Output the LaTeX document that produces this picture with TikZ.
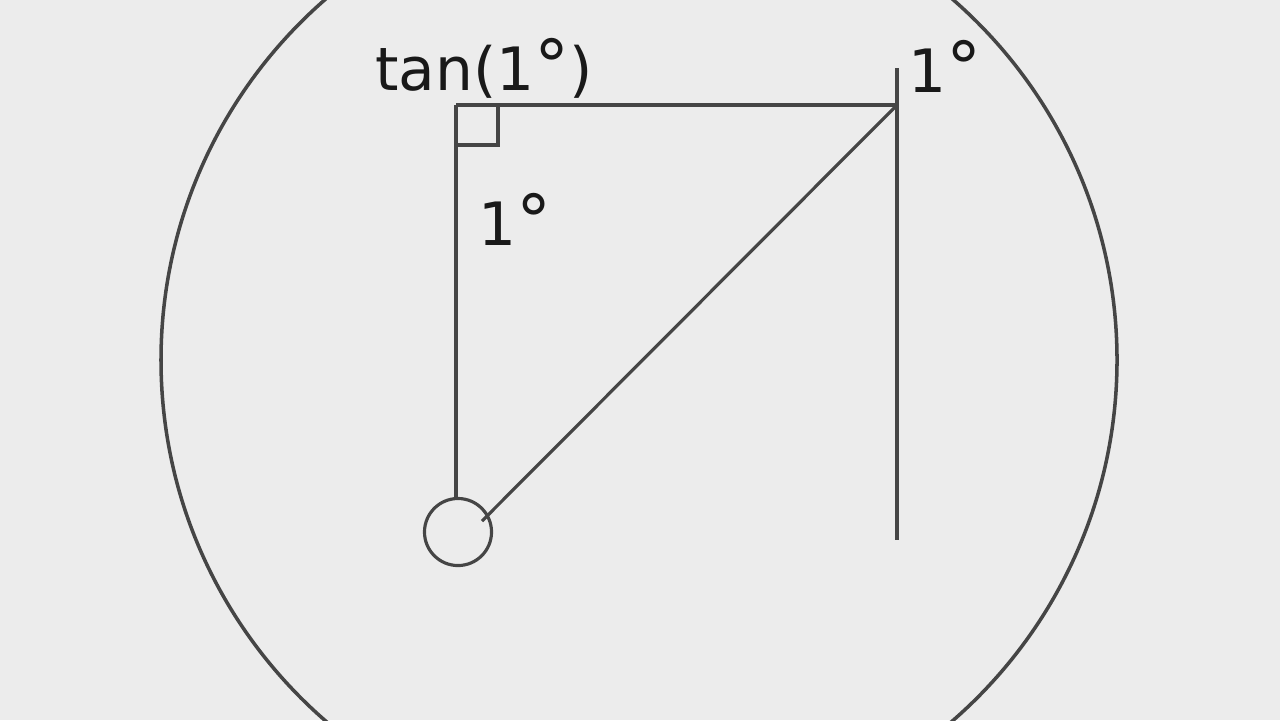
\documentclass[tikz,border=0pt]{standalone}
\usepackage{fontspec}
\setmainfont{DejaVu Sans}
\usetikzlibrary{shapes,arrows}
\definecolor{bg}{HTML}{ECECEC}
\definecolor{ink}{HTML}{454545}
\newcommand{\dg}{{\fontsize{20}{20}\selectfont°}}

\begin{document}
\begin{tikzpicture}[x=0.01cm,y=-0.01cm,line width=0.9pt,draw=ink]
\tikzstyle{every node}=[text=black!90,font=\fontsize{17}{20}\selectfont]
\tikzstyle{lbl}=[anchor=base,inner sep=0pt]
\fill[bg] (0,0) rectangle (1280,720);
\useasboundingbox (0,0) rectangle (1280,720);
\draw[ink,line width=1pt] (639,360) circle (478);
\node[circle,draw=ink,line width=0.9pt,minimum size=0.67cm,inner sep=0pt] (ball) at (458,532) {};
\coordinate (top) at (456,105);
\coordinate (tip) at (897,105);
\coordinate (end) at (482,521);
\coordinate (up) at (897,68);
\coordinate (down) at (897,540);
\path[draw=ink] (ball.north -| top) edge (top)
      (top) edge (tip)
      (tip) edge (end)
      (up) edge (down);
\draw[ink] (456,145) -| (498,105);
\node[lbl] (tan) at (484,90) {tan(1\dg)};
\node[lbl] (a1) at (945,92) {1\dg};
\node[lbl] (a2) at (515,245) {1\dg};
\end{tikzpicture}
\end{document}
